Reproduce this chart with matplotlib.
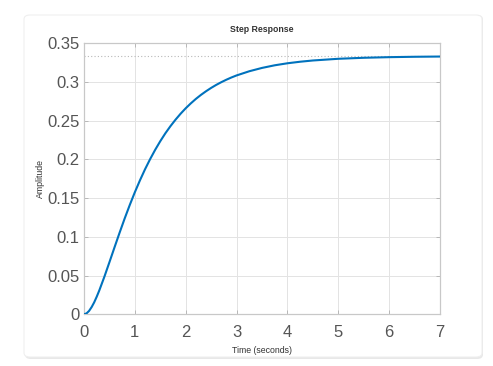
import matplotlib
matplotlib.use("Agg")
import matplotlib.pyplot as plt
from matplotlib.patches import FancyBboxPatch

# Data
time_s = [0.0, 0.05, 0.1, 0.15, 0.2, 0.25, 0.3, 0.4, 0.5, 0.6, 0.7, 0.8, 0.9, 1.0,
          1.1, 1.2, 1.3, 1.4, 1.5, 1.6, 1.7, 1.8, 1.9, 2.0, 2.1, 2.2, 2.3, 2.4,
          2.5, 2.6, 2.7, 2.8, 2.9, 3.0, 3.25, 3.5, 3.75, 4.0, 4.25, 4.5, 5.0,
          5.5, 6.0, 6.5, 7.0]
amplitude = [0.0, 0.0012, 0.0044, 0.0093, 0.0154, 0.0227, 0.0307, 0.0484, 0.0673,
             0.0865, 0.1054, 0.1238, 0.1412, 0.1577, 0.1730, 0.1873, 0.2004, 0.2125,
             0.2236, 0.2338, 0.2430, 0.2514, 0.2591, 0.2661, 0.2724, 0.2782, 0.2834,
             0.2881, 0.2924, 0.2963, 0.2998, 0.3030, 0.3059, 0.3085, 0.3139, 0.3182,
             0.3216, 0.3242, 0.3262, 0.3278, 0.3300, 0.3313, 0.3321, 0.3326, 0.3329]
steady_state = 0.3333
x_ticks = [0, 1, 2, 3, 4, 5, 6, 7]
y_ticks = [0, 0.05, 0.1, 0.15, 0.2, 0.25, 0.3, 0.35]
y_tick_labels = ["0", "0.05", "0.1", "0.15", "0.2", "0.25", "0.3", "0.35"]

plt.rcParams['font.family'] = ['Liberation Sans', 'DejaVu Sans']

W, H = 493, 366
fig = plt.figure(figsize=(W / 100, H / 100), dpi=100)
fig.patch.set_facecolor("white")

# card background
shadow = FancyBboxPatch((25 / W, 1 - 359 / H), 458 / W, 344 / H,
                        boxstyle="round,pad=0,rounding_size=0.012",
                        transform=fig.transFigure, facecolor="#e8e8e8",
                        edgecolor="none", zorder=0)
card = FancyBboxPatch((24 / W, 1 - 357 / H), 458 / W, 342 / H,
                      boxstyle="round,pad=0,rounding_size=0.012",
                      transform=fig.transFigure, facecolor="white",
                      edgecolor="#efefef", linewidth=0.8, zorder=1)
fig.patches.extend([shadow, card])

ax = fig.add_axes([84 / W, 1 - 314.3 / H, 356 / W, 271 / H])
ax.set_facecolor("white")
ax.set_zorder(2)

ax.plot([0, 7], [steady_state, steady_state], linestyle=(0, (1, 2)),
        color="#b8b8b8", linewidth=0.8, zorder=2)
ax.plot(time_s, amplitude, color="#0072BD", linewidth=1.5, zorder=3,
        solid_capstyle="round", solid_joinstyle="round")

ax.set_xlim(0, 7)
ax.set_ylim(0, 0.35)
ax.set_xticks(x_ticks)
ax.set_xticklabels([str(t) for t in x_ticks])
ax.set_yticks(y_ticks)
ax.set_yticklabels(y_tick_labels)

ax.grid(True, color="#e3e3e3", linewidth=0.7)
ax.set_axisbelow(True)
for s in ax.spines.values():
    s.set_color("#c8c8c8")
    s.set_linewidth(0.9)

ax.tick_params(direction="in", length=3, width=0.6, color="#b0b0b0",
               top=True, right=True, labelsize=12, labelcolor="#555555")
ax.tick_params(axis="x", pad=8)
ax.tick_params(axis="y", pad=3)

ax.set_title("Step Response", fontsize=6.3, fontweight="bold", color="#333333", pad=8)
ax.set_xlabel("Time (seconds)", fontsize=6.3, color="#333333", labelpad=4)
ax.set_ylabel("Amplitude", fontsize=6.3, color="#333333", labelpad=2)

fig.savefig("out.png", dpi=100)
